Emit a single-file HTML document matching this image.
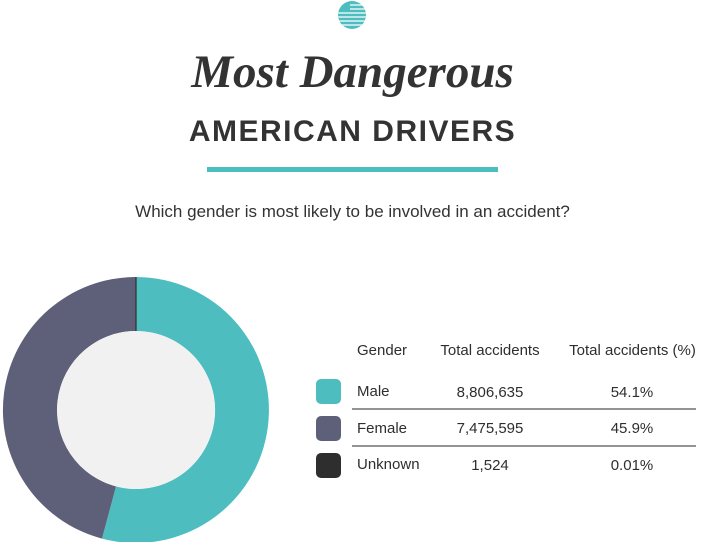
<!DOCTYPE html>
<html><head><meta charset="utf-8"><style>
body{margin:0;width:705px;height:542px;background:#fff;position:relative;overflow:hidden;font-family:"Liberation Sans",sans-serif;color:#2e2e2e}
.a{position:absolute;white-space:nowrap}
.sw{position:absolute;left:316px;width:25px;height:25px;border-radius:5px}
.c{text-align:center;font-size:15px}
</style></head><body>
<svg class="a" style="left:0;top:0" width="705" height="542">
 <defs><clipPath id="fc"><circle cx="352" cy="15" r="14"/></clipPath></defs>
 <circle cx="352" cy="15" r="14" fill="#4dbdbf"/>
 <g clip-path="url(#fc)" stroke="#fff" stroke-width="1.2">
  <line x1="336" y1="13" x2="370" y2="13"/><line x1="336" y1="17" x2="370" y2="17"/><line x1="336" y1="21" x2="370" y2="21"/><line x1="336" y1="25" x2="370" y2="25"/>
  <line x1="350" y1="5" x2="370" y2="5"/><line x1="350" y1="9" x2="370" y2="9"/>
 </g>
 <path d="M136 277 A133 133 0 1 1 102 538.6 L116 486.4 A79 79 0 1 0 136 331 Z" fill="#4dbdbf"/>
 <path d="M102 538.6 A133 133 0 0 1 136 277 L136 331 A79 79 0 0 0 116 486.4 Z" fill="#5d6078"/>
 <line x1="136" y1="277" x2="136" y2="331" stroke="#2e2e2e" stroke-width="1.2"/>
 <circle cx="136" cy="410" r="79" fill="#f1f1f1"/>
 <rect x="207" y="167" width="291" height="5" fill="#4dbdbf"/>
 <line x1="352" y1="409" x2="696" y2="409" stroke="#555" stroke-width="1.2"/>
 <line x1="352" y1="446" x2="696" y2="446" stroke="#555" stroke-width="1.2"/>
</svg>
<div class="a" style="left:0;width:705px;top:45px;text-align:center;font-family:'Liberation Serif',serif;font-style:italic;font-weight:bold;font-size:47px;color:#333">Most Dangerous</div>
<div class="a" style="left:0;width:705px;top:115px;text-align:center;font-size:30px;font-weight:bold;color:#333;letter-spacing:1.5px">AMERICAN DRIVERS</div>
<div class="a" style="left:0;width:705px;top:202px;text-align:center;font-size:17px;color:#333">Which gender is most likely to be involved in an accident?</div>
<div class="sw" style="top:379px;background:#4dbdbf"></div>
<div class="sw" style="top:416px;background:#5d6078"></div>
<div class="sw" style="top:453px;background:#2e2e2e"></div>
<div class="a" style="left:357px;top:342px;font-size:15px">Gender</div>
<div class="a c" style="left:430px;width:120px;top:342px">Total accidents</div>
<div class="a c" style="left:560px;width:145px;top:342px">Total accidents (%)</div>
<div class="a" style="left:357px;top:383px;font-size:15px">Male</div>
<div class="a c" style="left:430px;width:120px;top:384px">8,806,635</div>
<div class="a c" style="left:572px;width:120px;top:384px">54.1%</div>
<div class="a" style="left:357px;top:420px;font-size:15px">Female</div>
<div class="a c" style="left:430px;width:120px;top:420px">7,475,595</div>
<div class="a c" style="left:572px;width:120px;top:420px">45.9%</div>
<div class="a" style="left:357px;top:456px;font-size:15px">Unknown</div>
<div class="a c" style="left:430px;width:120px;top:457px">1,524</div>
<div class="a c" style="left:572px;width:120px;top:457px">0.01%</div>
</body></html>
